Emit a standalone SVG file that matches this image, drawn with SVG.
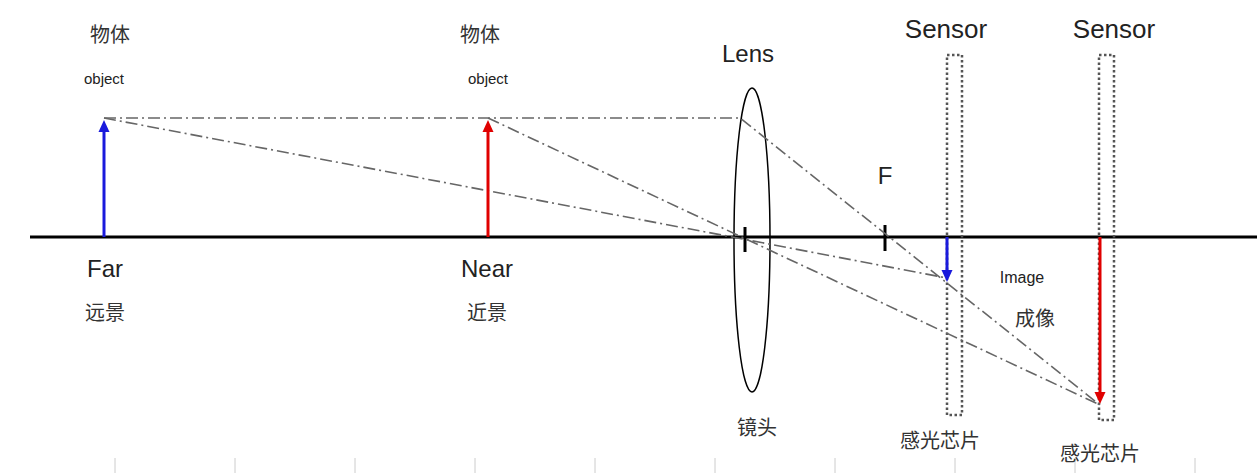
<svg xmlns="http://www.w3.org/2000/svg" width="1257" height="473" viewBox="0 0 1257 473">
<style>
.t{font-family:"Liberation Sans","Noto Sans CJK SC",sans-serif;fill:#222;text-anchor:middle}
.c{font-family:"Noto Sans CJK SC",sans-serif;fill:#333;text-anchor:middle;font-size:20px}
.ray{stroke:#666;stroke-width:1.6;fill:none;stroke-dasharray:12 4 2 4}
.sen{stroke:#555;stroke-width:2.5;fill:none;stroke-dasharray:2.5 2.5}
</style>
<defs>
<marker id="ab" markerWidth="12" markerHeight="12" refX="6" refY="6" orient="auto" markerUnits="userSpaceOnUse"><path d="M0,0.5L12,6L0,11.5z" fill="#1a1adc"/></marker>
<marker id="ar" markerWidth="12" markerHeight="12" refX="6" refY="6" orient="auto" markerUnits="userSpaceOnUse"><path d="M0,0.5L12,6L0,11.5z" fill="#e00000"/></marker>
</defs>
<rect width="1257" height="473" fill="#fff"/>
<g id="ticks" stroke="#ccc">
<path d="M115,458V473M235,458V473M355,458V473M475,458V473M595,458V473M715,458V473M835,458V473M955,458V473M1075,458V473M1195,458V473"/>
</g>
<g id="axis"><line x1="30" y1="237" x2="1257" y2="237" stroke="#000" stroke-width="3"/></g>
<g id="lens"><ellipse cx="752" cy="240" rx="18" ry="152" fill="none" stroke="#000" stroke-width="1.5"/>
<line x1="745" y1="227" x2="745" y2="252" stroke="#000" stroke-width="3"/>
<text class="t" x="748" y="62" font-size="24">Lens</text>
<text class="c" x="757" y="435">镜头</text></g>
<g id="focus"><line x1="885" y1="225" x2="885" y2="251" stroke="#000" stroke-width="3"/>
<text class="t" x="885" y="184" font-size="24">F</text></g>
<g id="sensor1"><rect class="sen" x="947" y="55" width="15" height="360"/>
<text class="t" x="946" y="38" font-size="26">Sensor</text>
<text class="c" x="940" y="448">感光芯片</text></g>
<g id="sensor2"><rect class="sen" x="1099" y="55" width="15" height="365"/>
<text class="t" x="1114" y="38" font-size="26">Sensor</text>
<text class="c" x="1100" y="461">感光芯片</text></g>
<g id="connectors">
<path class="ray" d="M104,118H740L1100,405"/>
<path class="ray" d="M104,118L748,240L947,278"/>
<path class="ray" d="M488,118L748,240L1100,405"/>
</g>
<g id="far"><line x1="104" y1="237" x2="104" y2="126" stroke="#1a1adc" stroke-width="3" marker-end="url(#ab)"/>
<text class="c" x="110" y="42">物体</text>
<text class="t" x="104" y="84" font-size="15">object</text>
<text class="t" x="105" y="277" font-size="24">Far</text>
<text class="c" x="105" y="320">远景</text></g>
<g id="near"><line x1="488" y1="237" x2="488" y2="126" stroke="#e00000" stroke-width="3" marker-end="url(#ar)"/>
<text class="c" x="480" y="42">物体</text>
<text class="t" x="488" y="84" font-size="15">object</text>
<text class="t" x="487" y="277" font-size="24">Near</text>
<text class="c" x="487" y="320">近景</text></g>
<g id="image1"><line x1="947" y1="237" x2="947" y2="276" stroke="#1a1adc" stroke-width="3" marker-end="url(#ab)"/>
<text class="t" x="1022" y="283" font-size="16">Image</text>
<text class="c" x="1035" y="326">成像</text></g>
<g id="image2"><line x1="1100" y1="237" x2="1100" y2="398" stroke="#e00000" stroke-width="3" marker-end="url(#ar)"/></g>
</svg>
